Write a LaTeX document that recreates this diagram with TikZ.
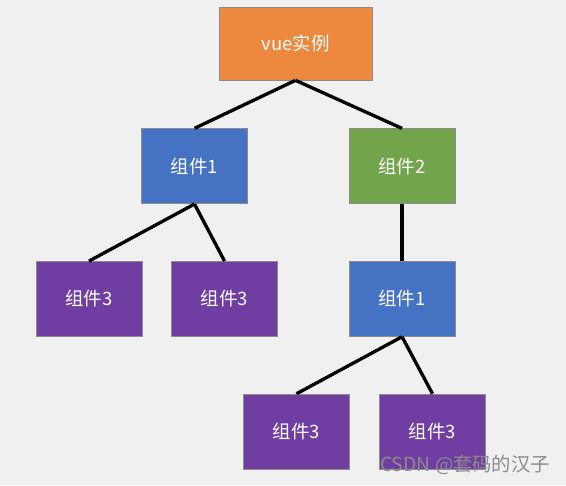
\documentclass[tikz,border=0pt]{standalone}
\usepackage{fontspec}
\setmainfont{Noto Sans CJK SC}
\usetikzlibrary{positioning}
\definecolor{bggray}{RGB}{240,240,240}
\definecolor{vueorange}{RGB}{237,137,62}
\definecolor{compblue}{RGB}{70,114,196}
\definecolor{compgreen}{RGB}{114,164,76}
\definecolor{comppurple}{RGB}{112,62,162}
\definecolor{markgray}{RGB}{140,140,140}

\begin{document}
\begin{tikzpicture}[font=\fontsize{10.5}{12}\selectfont,
		comp/.style={draw=black!45, text=white,
		             minimum width=2.12cm, minimum height=1.5cm},
		link/.style={line width=1.9pt}]
		\fill[bggray] (0,0) rectangle (11.32,-9.7);
		\useasboundingbox (0,0) rectangle (11.32,-9.7);
		\node[comp, fill=vueorange, minimum width=3.06cm,
		      minimum height=1.46cm] (vue) at (5.91,-0.87) {vue实例};
		\node[comp, fill=compblue, below=0.96cm of vue, xshift=-2.02cm] (cA) {组件1};
		\node[comp, fill=compgreen, below=0.96cm of vue, xshift=2.13cm] (cB) {组件2};
		\node[comp, fill=comppurple, below=1.14cm of cA, xshift=-2.11cm] (cAa) {组件3};
		\node[comp, fill=comppurple, below=1.14cm of cA, xshift=0.6cm] (cAb) {组件3};
		\node[comp, fill=compblue, below=1.14cm of cB] (cBa) {组件1};
		\node[comp, fill=comppurple, below=1.14cm of cBa, xshift=-2.11cm] (cBaa) {组件3};
		\node[comp, fill=comppurple, below=1.14cm of cBa, xshift=0.61cm] (cBab) {组件3};
		\foreach \a/\b in {vue/cA, vue/cB, cA/cAa, cA/cAb, cB/cBa, cBa/cBaa, cBa/cBab}
		  \draw[link] (\a.south) -- (\b.north);
		\node[text=markgray, font=\fontsize{11}{12}\selectfont] (mark) at (9.3,-9.3) {CSDN @套码的汉子};
	\end{tikzpicture}
\end{document}
